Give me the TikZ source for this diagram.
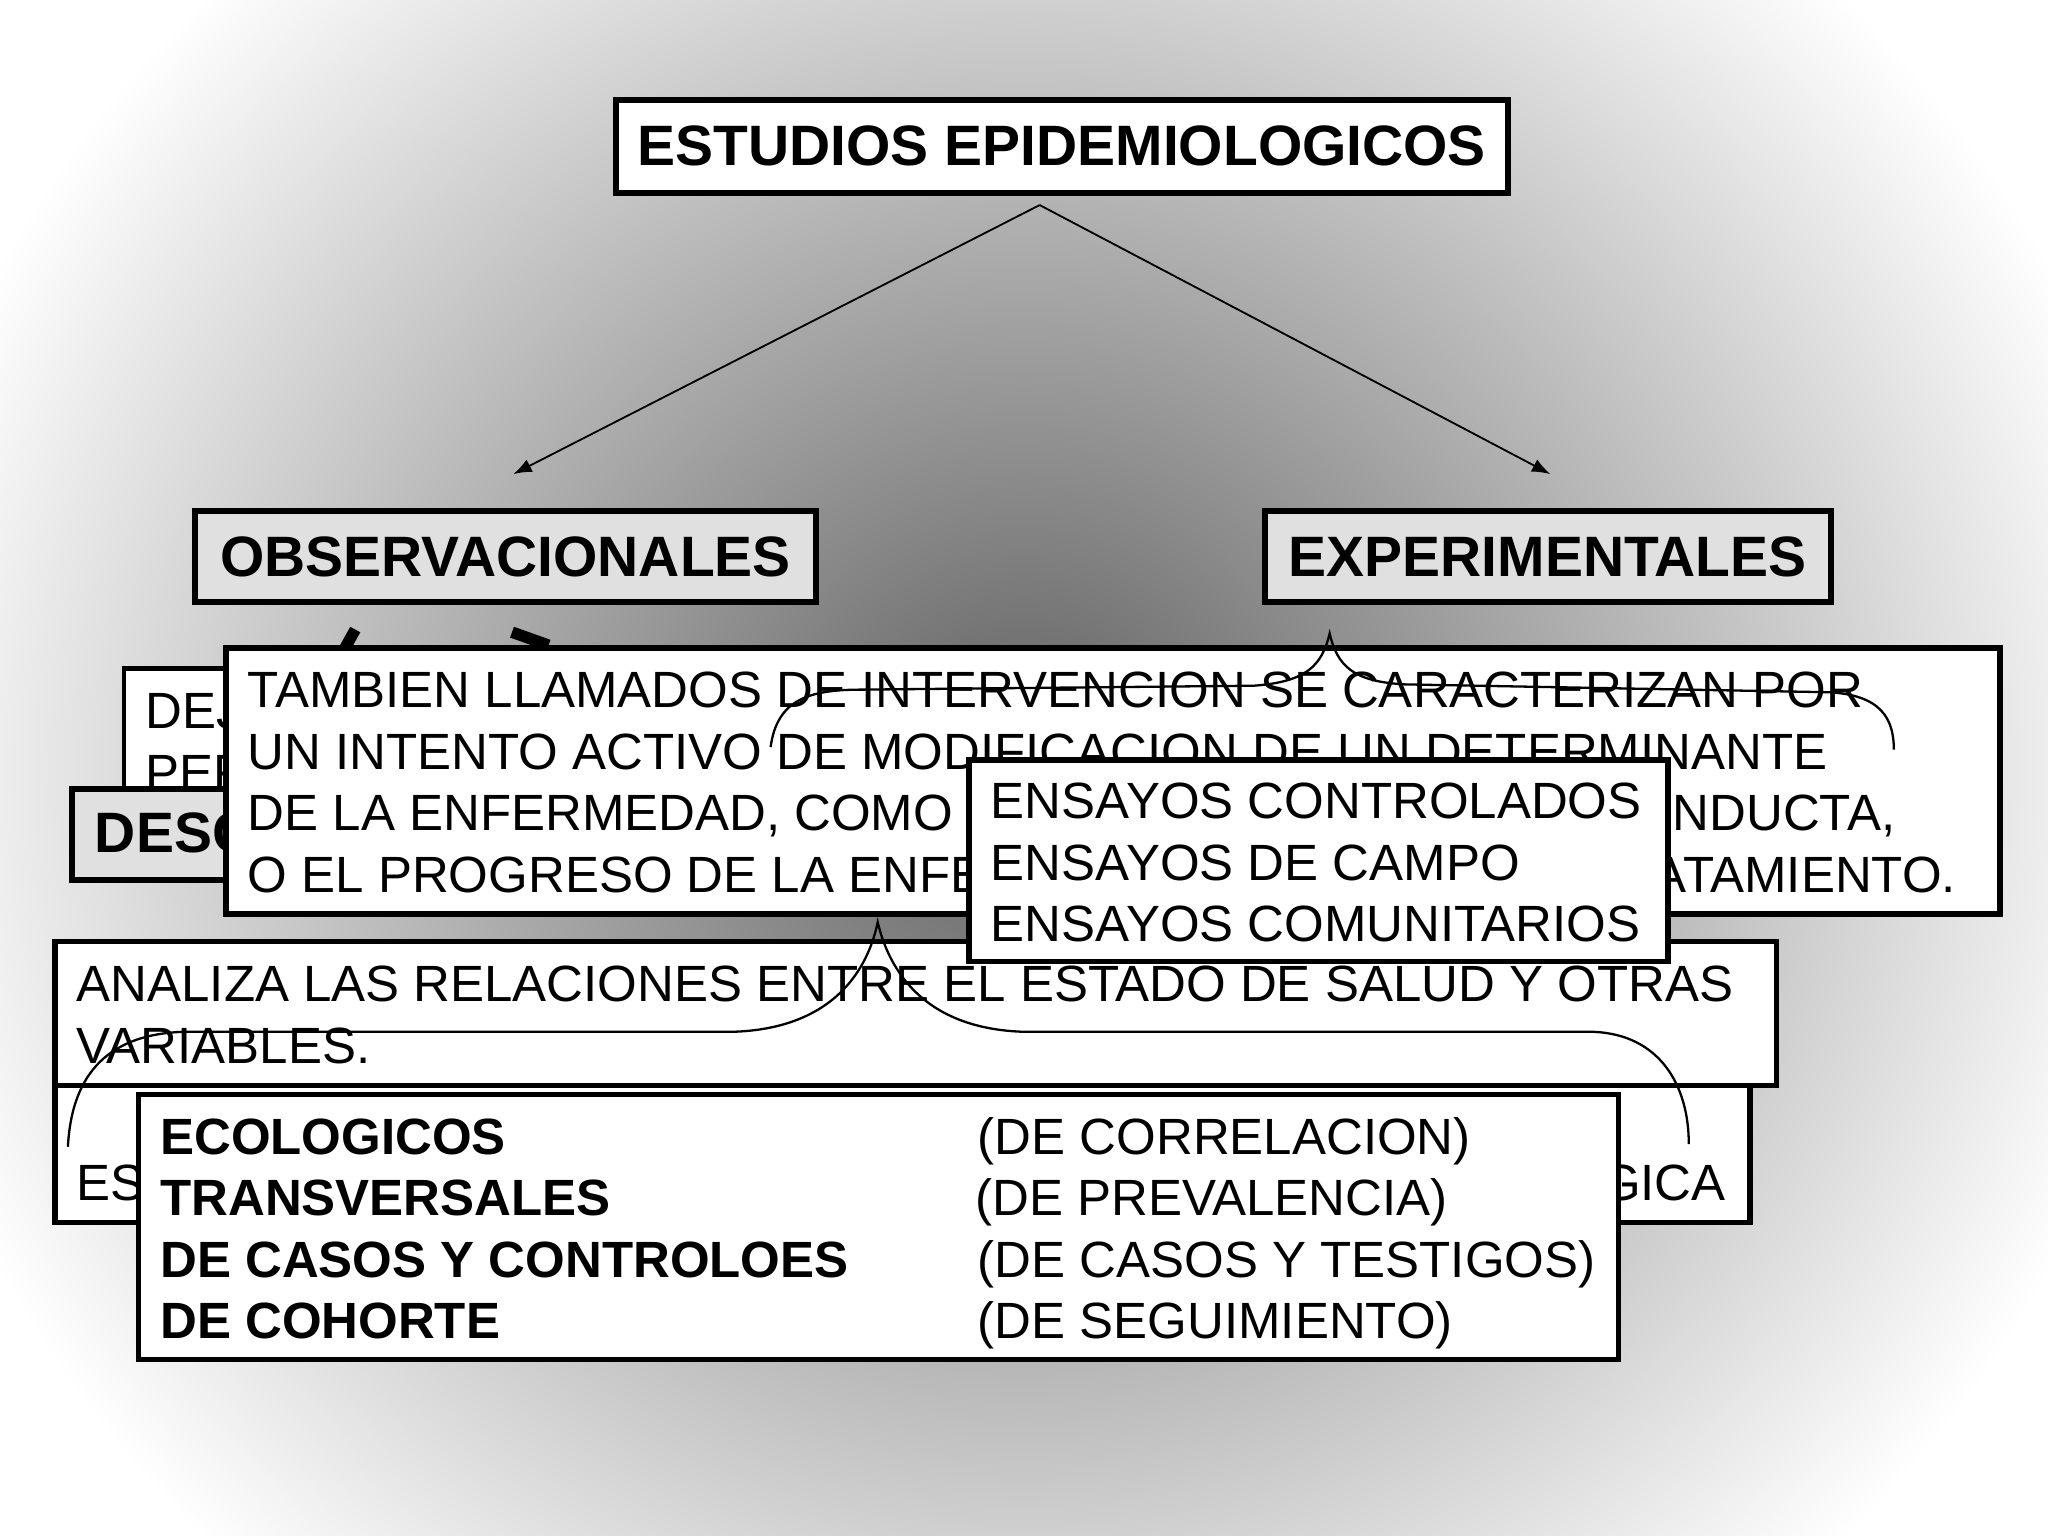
\documentclass[tikz,border=0pt]{standalone}
\usepackage{fontspec}
\setmainfont{Liberation Sans}
\tikzset{
  bx/.style={draw=black,line width=1pt,fill=white},
  tbx/.style={draw=black,line width=1.3pt},
  tx/.style={anchor=base west,inner sep=0pt,font=\fontsize{11.1}{13}\selectfont},
  bt/.style={anchor=base west,inner sep=0pt,font=\fontsize{11.1}{13}\selectfont\bfseries},
  ht/.style={anchor=center,inner sep=0pt,font=\fontsize{12.4}{14}\selectfont\bfseries},
  arr/.style={-{Latex[length=4pt,width=3pt]},line width=0.4pt},
  brc/.style={line width=0.5pt}
}
\usetikzlibrary{arrows.meta}
\begin{document}
\begin{tikzpicture}[x=0.01cm,y=-0.01cm]
\useasboundingbox (0,0) rectangle (1568,1176);
\shade[inner color=black!62,outer color=white] (-100,-250) rectangle (1668,1426);
% top
\node[tbx,fill=white,minimum width=6.83cm,minimum height=0.71cm,inner sep=0pt,ht] (top) at (813,112) {ESTUDIOS EPIDEMIOLOGICOS};
\coordinate (ta) at (796,157);
\node[tbx,fill=black!12,minimum width=4.75cm,minimum height=0.70cm,inner sep=0pt,ht] (obs) at (387,426) {OBSERVACIONALES};
\node[tbx,fill=black!12,minimum width=4.33cm,minimum height=0.70cm,inner sep=0pt,ht] (exp) at (1185,426) {EXPERIMENTALES};
\coordinate (oa) at (393,363);
\coordinate (ea) at (1187,363);
\draw[arr] (ta) -- (oa);
\draw[arr] (ta) -- (ea);
% hidden bracket pieces
\draw[line width=2.5pt] (272,482) -- (262,500);
\draw[line width=2.5pt] (392,484) -- (420,494);
% DEJ box
\draw[bx] (95,512) rectangle (200,620);
\node[tx] (dej) at (111,558) {DEJ};
\node[tx] (per) at (111,605) {PER};
% DESC box
\draw[tbx,fill=black!12] (55,604) rectangle (200,674);
\node[bt,font=\fontsize{12.4}{14}\selectfont\bfseries] (desc) at (72,653) {DESC};
% TAMBIEN box
\draw[tbx,fill=white] (173,496) rectangle (1531,700);
\node[tx] (t1) at (189,542) {TAMBIEN LLAMADOS DE INTERVENCION SE CARACTERIZAN POR};
\node[tx] (t2) at (189,589) {UN INTENTO ACTIVO DE MODIFICACION DE UN DETERMINANTE};
\node[tx] (t3) at (189,636) {DE LA ENFERMEDAD, COMO UNA EXPOSICION O UNA CONDUCTA,};
\node[tx] (t4) at (189,683) {O EL PROGRESO DE LA ENFERMEDAD MEDIANTE UN TRATAMIENTO.};
\draw[brc] (590,572) .. controls (595,535) and (620,528) .. (660,528) -- (960,525) .. controls (1000,522) and (1012,510) .. (1018,485) .. controls (1024,510) and (1036,522) .. (1076,524) -- (1400,530) .. controls (1440,532) and (1450,550) .. (1450,574);
% ES box
\draw[bx,line width=1.2pt] (42,831) rectangle (1340,936);
\node[tx] (es) at (58,919) {ES};
\node[tx,anchor=base east] (gica) at (1322,919) {GICA};
% ANALIZA box
\draw[bx,line width=1.2pt] (42,721) rectangle (1360,831);
\node[tx] (a1) at (58,767) {ANALIZA LAS RELACIONES ENTRE EL ESTADO DE SALUD Y OTRAS};
\node[tx] (a2) at (58,814) {VARIABLES.};
% ENSAYOS box
\draw[bx,line width=1.2pt] (742,582) rectangle (1277,736);
\node[tx] (e1) at (758,627) {ENSAYOS CONTROLADOS};
\node[tx] (e2) at (758,674) {ENSAYOS DE CAMPO};
\node[tx] (e3) at (758,721) {ENSAYOS COMUNITARIOS};
\draw[brc] (52,878) .. controls (55,820) and (85,792) .. (140,790) -- (560,790) .. controls (640,788) and (665,740) .. (672,706) .. controls (680,740) and (705,788) .. (785,790) -- (1220,790) .. controls (1270,792) and (1293,830) .. (1293,876);
% bottom box
\draw[bx,line width=1.2pt] (106,838) rectangle (1239,1041);
\node[bt] (b1) at (122,884) {ECOLOGICOS};
\node[bt] (b2) at (122,931) {TRANSVERSALES};
\node[bt] (b3) at (122,978) {DE CASOS Y CONTROLOES};
\node[bt] (b4) at (122,1025) {DE COHORTE};
\node[tx] (c1) at (748,884) {(DE CORRELACION)};
\node[tx] (c2) at (746,931) {(DE PREVALENCIA)};
\node[tx] (c3) at (748,978) {(DE CASOS Y TESTIGOS)};
\node[tx] (c4) at (748,1025) {(DE SEGUIMIENTO)};
\end{tikzpicture}
\end{document}
